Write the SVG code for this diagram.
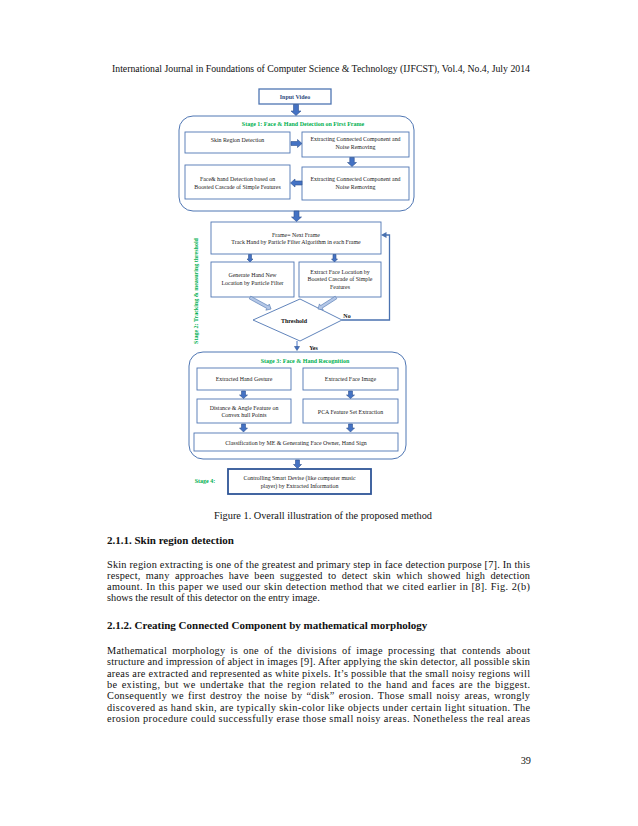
<svg xmlns="http://www.w3.org/2000/svg" width="638" height="826" viewBox="0 0 638 826">
<style>
.box{fill:#fff;stroke:#4f76b3;stroke-width:0.9}
.cont{fill:none;stroke:#4f76b3;stroke-width:1}
.s4{fill:#fff;stroke:#2f5597;stroke-width:1.8}
.t{font-family:"Liberation Serif","Times New Roman",serif;font-size:5.9px;fill:#222;text-anchor:middle}
.tb{font-family:"Liberation Serif","Times New Roman",serif;font-size:6px;font-weight:bold;fill:#111;text-anchor:middle}
.st{font-family:"Liberation Serif","Times New Roman",serif;font-size:6px;font-weight:bold;fill:#00b050;text-anchor:middle}
.arr{fill:#4472c4;stroke:#2f528f;stroke-width:0.6}
.darr{fill:#b4c7e7;stroke:#5b7fb5;stroke-width:0.6}
.ln{fill:none;stroke:#4a72b0;stroke-width:1.3}
.body{font-family:"Liberation Serif","Times New Roman",serif;font-size:10.3px;fill:#111}
.hd{font-family:"Liberation Serif","Times New Roman",serif;font-size:11px;font-weight:bold;fill:#111}
</style>
<rect width="638" height="826" fill="#fff"/>
<text class="body" x="321" y="72" text-anchor="middle" font-size="9.6" textLength="418" lengthAdjust="spacingAndGlyphs">International Journal in Foundations of Computer Science &amp; Technology (IJFCST), Vol.4, No.4, July 2014</text>

<g id="stage1-container"><rect class="cont" x="179" y="116" width="235" height="95" rx="14"/><text class="st" x="303" y="126">Stage 1: Face &amp; Hand Detection on First Frame</text></g>
<g id="stage2-label"><text class="st" transform="translate(197.5,291) rotate(-90)">Stage 2: Tracking &amp; measuring threshold</text></g>
<g id="stage3-container"><rect class="cont" x="189" y="352" width="217" height="107" rx="14"/><text class="st" x="305" y="363">Stage 3: Face &amp; Hand Recognition</text></g>
<g id="stage4-label"><text class="st" x="205" y="483">Stage 4:</text></g>

<g id="input-video"><rect x="259" y="89" width="72" height="15" fill="#fff" stroke="#4f76b3" stroke-width="1.3"/><text class="tb" x="295" y="99" style="fill:#2e4a7d">Input Video</text></g>
<g id="skin-region"><rect class="box" x="185" y="132" width="105" height="21"/><text class="t" x="237.5" y="141.8">Skin Region Detection</text></g>
<g id="extract-cc-1"><rect class="box" x="302" y="132" width="107" height="25"/><text class="t" x="355.5" y="141">Extracting Connected Component and</text><text class="t" x="355.5" y="148.5">Noise Removing</text></g>
<g id="extract-cc-2"><rect class="box" x="302" y="167" width="107" height="33"/><text class="t" x="355.5" y="181.3">Extracting Connected Component and</text><text class="t" x="355.5" y="189.3">Noise Removing</text></g>
<g id="face-hand-detect"><rect class="box" x="185" y="165" width="105" height="34"/><text class="t" x="237.5" y="181.3">Face&amp; hand Detection based on</text><text class="t" x="237.5" y="189.3">Boosted Cascade of Simple Features</text></g>
<g id="next-frame"><rect class="box" x="211" y="222" width="170" height="32"/><text class="t" x="296" y="237">Frame= Next Frame</text><text class="t" x="296" y="244.3">Track Hand by Particle Filter Algorithm in each Frame</text></g>
<g id="generate-hand"><rect class="box" x="211" y="262" width="83" height="35"/><text class="t" x="252.5" y="277.3">Generate Hand New</text><text class="t" x="252.5" y="284.7">Location by Particle Filter</text></g>
<g id="extract-face"><rect class="box" x="299" y="262" width="82" height="35"/><text class="t" x="340" y="274">Extract Face Location by</text><text class="t" x="340" y="281.3">Boosted Cascade of Simple</text><text class="t" x="340" y="288.7">Features</text></g>
<g id="threshold"><polygon class="box" points="253,320 300,299 342,320 300,341"/><text class="tb" x="294" y="322.5">Threshold</text></g>
<g id="hand-gesture"><rect class="box" x="197" y="368" width="94" height="22"/><text class="t" x="244" y="381">Extracted Hand Gesture</text></g>
<g id="face-image"><rect class="box" x="303" y="368" width="95" height="22"/><text class="t" x="350.5" y="381">Extracted Face Image</text></g>
<g id="distance-angle"><rect class="box" x="197" y="399" width="94" height="24"/><text class="t" x="244" y="410">Distance &amp; Angle Feature on</text><text class="t" x="244" y="417.3">Convex hull Points</text></g>
<g id="pca"><rect class="box" x="303" y="399" width="95" height="24"/><text class="t" x="350.5" y="414">PCA Feature Set Extraction</text></g>
<g id="classification"><rect class="box" x="194" y="433" width="204" height="18"/><text class="t" x="296" y="444.5">Classification by ME &amp; Generating Face Owner, Hand Sign</text></g>
<g id="stage4-box"><rect class="s4" x="228" y="469" width="143" height="25"/><text class="t" x="299.5" y="480">Controlling Smart Devise (like computer music</text><text class="t" x="299.5" y="488">player) by Extracted Information</text></g>

<g id="connectors">
<path class="arr" d="M293.5,104.5 H298.5 V111 H301 L296,115.5 L291,111 H293.5 Z"/>
<path class="arr" d="M291,141.5 V145.5 H297.5 V147.5 L302,143.5 L297.5,139.5 V141.5 Z"/>
<path class="arr" d="M349.75,157.5 H354.25 V162.5 H356.5 L352,166.5 L347.5,162.5 H349.75 Z"/>
<path class="arr" d="M302,181 V185 H295 V187 L290.5,183 L295,179 V181 Z"/>
<path class="arr" d="M294,211 H299 V217 H301.5 L296.5,221.5 L291.5,217 H294 Z"/>
<path class="arr" d="M248.5,254.5 H251.5 V259 H253 L250,262 L247,259 H248.5 Z"/>
<path class="arr" d="M333,254.5 H336 V259 H337.5 L334.5,262 L331.5,259 H333 Z"/>
<path class="darr" transform="translate(250,297.5) rotate(28.7)" d="M0,-1.5 H20 V-3.5 L24,0 L20,3.5 V1.5 H0 Z"/>
<path class="darr" transform="translate(336,297.5) rotate(147.4)" d="M0,-1.5 H17.4 V-3.5 L21.4,0 L17.4,3.5 V1.5 H0 Z"/>
<polyline class="ln" points="342,320 389.5,320 389.5,235 385,235"/>
<path fill="#4a72b0" d="M381,235 L386.5,232 L386.5,238 Z"/>
<text class="tb" x="347" y="318">No</text>
<line x1="297" y1="341" x2="297" y2="347" stroke="#4472c4" stroke-width="1"/>
<path class="arr" d="M294.5,346.5 H299.5 L297,350.5 Z"/>
<text class="tb" x="313.5" y="349.5">Yes</text>
<path class="arr" d="M241.5,391 H245.5 V395 H247.5 L243.5,398.5 L239.5,395 H241.5 Z"/>
<path class="arr" d="M348.5,391 H352.5 V395 H354.5 L350.5,398.5 L346.5,395 H348.5 Z"/>
<path class="arr" d="M241.5,424 H245.5 V428 H247.5 L243.5,432 L239.5,428 H241.5 Z"/>
<path class="arr" d="M348.5,424 H352.5 V428 H354.5 L350.5,432 L346.5,428 H348.5 Z"/>
<path class="arr" d="M295.5,460 H299.5 V464.5 H301.5 L297.5,468.5 L293.5,464.5 H295.5 Z"/>
</g>

<text class="body" x="323" y="519" text-anchor="middle" font-size="10">Figure 1.  Overall illustration of the proposed method</text>
<text class="hd" x="107" y="544">2.1.1. Skin region detection</text>
<text class="body" x="107" y="567.5" textLength="423" lengthAdjust="spacing">Skin region extracting is one of the greatest and primary step in face detection purpose [7]. In this</text>
<text class="body" x="107" y="578.7" textLength="423" lengthAdjust="spacing" word-spacing="2.5">respect, many approaches have been suggested to detect skin which showed high detection</text>
<text class="body" x="107" y="589.9" textLength="423" lengthAdjust="spacing" word-spacing="0.4">amount. In this paper we used our skin detection method that we cited earlier in [8]. Fig. 2(b)</text>
<text class="body" x="107" y="601.1">shows the result of this detector on the entry image.</text>
<text class="hd" x="107" y="629">2.1.2. Creating Connected Component by mathematical morphology</text>
<text class="body" x="107" y="654" textLength="423" lengthAdjust="spacing" word-spacing="2.3">Mathematical morphology is one of the divisions of image processing that contends about</text>
<text class="body" x="107" y="665.3" textLength="423" lengthAdjust="spacing">structure and impression of abject in images [9]. After applying the skin detector, all possible skin</text>
<text class="body" x="107" y="676.6" textLength="423" lengthAdjust="spacing">areas are extracted and represented as white pixels. It’s possible that the small noisy regions will</text>
<text class="body" x="107" y="687.9" textLength="423" lengthAdjust="spacing" word-spacing="1.2">be existing, but we undertake that the region related to the hand and faces are the biggest.</text>
<text class="body" x="107" y="699.2" textLength="423" lengthAdjust="spacing" word-spacing="1.3">Consequently we first destroy the noise by “disk” erosion. Those small noisy areas, wrongly</text>
<text class="body" x="107" y="710.5" textLength="423" lengthAdjust="spacing">discovered as hand skin, are typically skin-color like objects under certain light situation. The</text>
<text class="body" x="107" y="721.8" textLength="423" lengthAdjust="spacing">erosion procedure could successfully erase those small noisy areas. Nonetheless the real areas</text>
<text class="body" x="531" y="764" text-anchor="end" font-size="10">39</text>
</svg>
